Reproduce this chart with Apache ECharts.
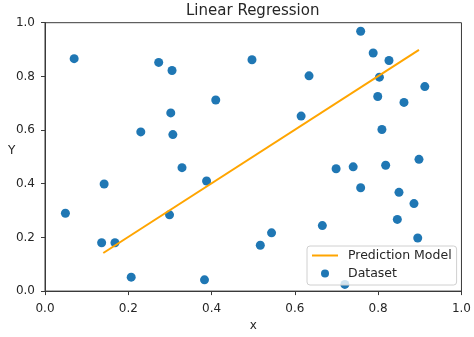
<!DOCTYPE html>
<html>
<head>
<meta charset="utf-8">
<script src="https://cdn.jsdelivr.net/npm/echarts@6/dist/echarts.min.js"></script>
<style>
  html, body { margin: 0; padding: 0; background: #fff; }
  #chart { width: 474px; height: 337px; }
</style>
</head>
<body>
<div id="chart"></div>
<script>
// Observed samples
const dataX = [0.070, 0.273, 0.305, 0.410, 0.302, 0.230, 0.307, 0.329,
               0.758, 0.497, 0.788, 0.826, 0.803, 0.634, 0.912, 0.799, 0.862, 0.615, 0.809, 0.898, 0.818, 0.699, 0.740,
               0.142, 0.049, 0.299, 0.388, 0.136, 0.168, 0.207, 0.383,
               0.758, 0.850, 0.886, 0.846, 0.666, 0.544, 0.517, 0.895, 0.720];
const dataY = [0.866, 0.852, 0.822, 0.712, 0.664, 0.593, 0.583, 0.460,
               0.968, 0.862, 0.887, 0.859, 0.797, 0.802, 0.762, 0.725, 0.703, 0.652, 0.602, 0.491, 0.469, 0.456, 0.463,
               0.399, 0.290, 0.284, 0.410, 0.180, 0.180, 0.052, 0.042,
               0.385, 0.368, 0.326, 0.267, 0.244, 0.217, 0.171, 0.198, 0.025];

// Fitted model evaluated at the ends of its range
const fitX = [0.140, 0.898];
const fitY = [0.142, 0.899];

const tickValues = [0.0, 0.2, 0.4, 0.6, 0.8, 1.0];

const FONT = 'DejaVu Sans';
const TEXT = '#262626';
const AXIS = '#3a3a3a';
const FIT_COLOR = '#ffa500';
const DOT_COLOR = '#1f77b4';

const chart = echarts.init(document.getElementById('chart'), null, { renderer: 'canvas' });

const axisCommon = {
  type: 'value',
  min: 0,
  max: 1,
  interval: 0.2,
  axisLine: { show: true, lineStyle: { color: AXIS, width: 1 } },
  axisTick: { show: true, inside: false, length: 4, lineStyle: { color: AXIS, width: 1 } },
  splitLine: { show: false },
  axisLabel: {
    color: TEXT, fontFamily: FONT, fontSize: 12,
    formatter: v => tickValues.find(t => Math.abs(t - v) < 1e-9).toFixed(1)
  },
  nameTextStyle: { color: TEXT, fontFamily: FONT, fontSize: 12 }
};

chart.setOption({
  animation: false,
  backgroundColor: '#fff',
  title: {
    text: 'Linear Regression',
    left: 186,
    top: 4,
    padding: 0,
    textStyle: { color: TEXT, fontFamily: FONT, fontSize: 15, fontWeight: 'normal' }
  },
  grid: {
    left: 45, right: 12.3, top: 22.7, bottom: 43.3,
    show: true, borderColor: AXIS, borderWidth: 1, backgroundColor: 'transparent'
  },
  xAxis: Object.assign({}, axisCommon, {
    name: 'x',
    nameLocation: 'middle',
    nameGap: 28,
    axisLabel: Object.assign({}, axisCommon.axisLabel, { margin: 12 })
  }),
  yAxis: Object.assign({}, axisCommon, {
    axisLabel: Object.assign({}, axisCommon.axisLabel, { margin: 10 })
  }),
  graphic: [{
    type: 'text',
    left: 8,
    top: 145,
    style: { text: 'Y', fill: TEXT, font: '12px "DejaVu Sans"' }
  }],
  legend: {
    left: 307,
    top: 246,
    orient: 'vertical',
    itemWidth: 26,
    itemHeight: 8,
    itemGap: 5,
    padding: [3, 5, 5, 5],
    borderColor: '#d0d0d0',
    borderWidth: 1,
    borderRadius: 3,
    backgroundColor: 'rgba(255,255,255,0.8)',
    textStyle: { color: TEXT, fontFamily: FONT, fontSize: 12.5, padding: [0, 0, 0, 5] },
    data: [
      { name: 'Prediction Model', icon: 'path://M0,0 H26 V2 H0 Z', itemStyle: { color: FIT_COLOR } },
      { name: 'Dataset', icon: 'circle' }
    ]
  },
  series: [
    {
      name: 'Prediction Model',
      type: 'line',
      symbol: 'none',
      data: fitX.map((x, i) => [x, fitY[i]]),
      lineStyle: { color: FIT_COLOR, width: 2 },
      itemStyle: { color: FIT_COLOR },
      z: 3
    },
    {
      name: 'Dataset',
      type: 'scatter',
      symbol: 'circle',
      symbolSize: 9,
      data: dataX.map((x, i) => [x, dataY[i]]),
      itemStyle: { color: DOT_COLOR, opacity: 1 },
      z: 2
    }
  ]
});
</script>
</body>
</html>
